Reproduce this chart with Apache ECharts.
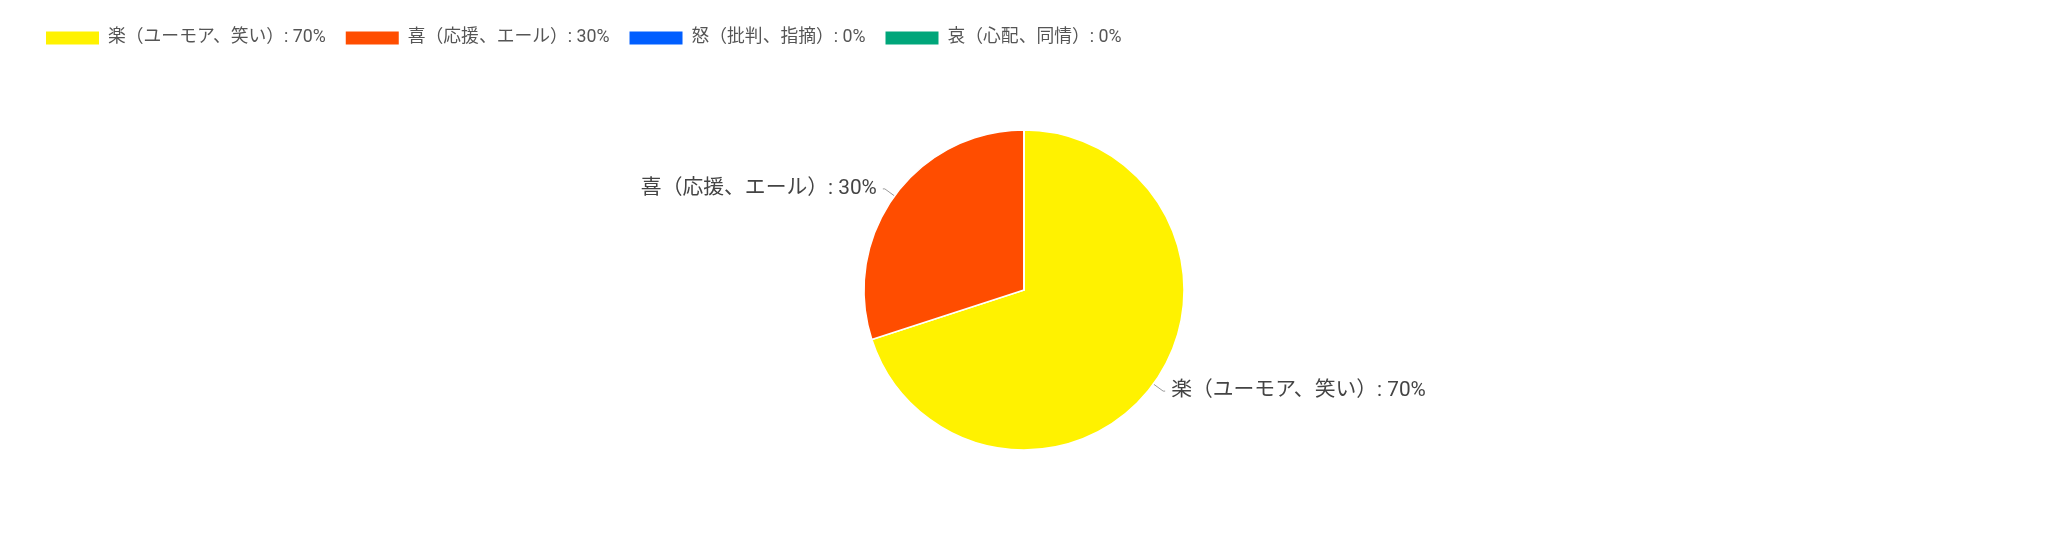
<!DOCTYPE html>
<html>
<head>
<meta charset="utf-8">
<script src="https://cdn.jsdelivr.net/npm/echarts@6/dist/echarts.min.js"></script>
<style>html,body{margin:0;padding:0;background:#fff;}#c{width:2048px;height:537px;}</style>
</head>
<body>
<div id="c"></div>
<script>
const categories = ['楽（ユーモア、笑い）', '喜（応援、エール）', '怒（批判、指摘）', '哀（心配、同情）'];
const values = [70, 30, 0, 0];
const colors = ['#FFF200', '#FF4D00', '#005EFF', '#00A67A'];

const total = values.reduce((a, b) => a + b, 0);
const pct = {};
categories.forEach((c, i) => { pct[c] = Math.round(values[i] / total * 100); });

const font = "Roboto, 'Noto Sans CJK JP', sans-serif";
const chart = echarts.init(document.getElementById('c'));
chart.setOption({
  animation: false,
  color: colors,
  legend: {
    left: 39,
    top: 24,
    itemWidth: 55,
    itemHeight: 15,
    itemGap: 18,
    icon: 'rect',
    textStyle: { fontFamily: font, fontSize: 17.8, color: '#555', padding: [0, 0, 0, 3] },
    formatter: name => name + ': ' + pct[name] + '%',
    data: categories
  },
  series: [{
    type: 'pie',
    center: [1024, 290],
    radius: 160,
    startAngle: 90,
    clockwise: true,
    minShowLabelAngle: 1,
    itemStyle: { borderColor: '#fff', borderWidth: 1.5 },
    label: {
      formatter: '{b}: {d}%',
      fontFamily: font,
      fontSize: 20.8,
      color: '#444',
      distanceToLabelLine: 6
    },
    labelLine: { length: 12, length2: 2, lineStyle: { color: '#999', width: 1 } },
    data: categories.map((c, i) => ({ name: c, value: values[i] }))
  }]
});
</script>
</body>
</html>
